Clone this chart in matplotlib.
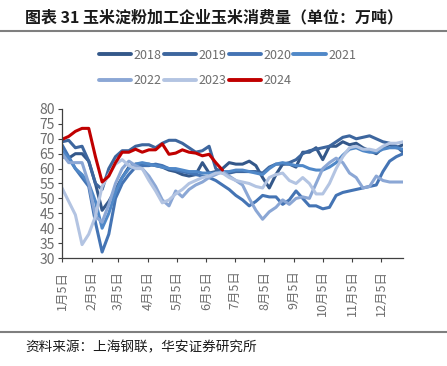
import matplotlib
matplotlib.use("Agg")
import matplotlib.pyplot as plt
import numpy as np

plt.rcParams['font.family'] = ['Noto Sans CJK SC', 'DejaVu Sans']

# weekly series (week index 0 = 1月5日)
y2018 = [64, 63.5, 65, 65, 62.5, 55, 46, 49, 53, 57, 60.5, 61.5, 61.5,
         61.5, 61, 60.5, 59.5, 59, 58, 57.5, 58, 62, 58.5, 59, 60, 62,
         61.5, 61.5, 62.5, 61, 57, 53.5, 58, 61.5, 61.5, 60.5, 65.5, 65.5,
         67, 63, 67.5, 67.5, 69, 68, 68.5, 67, 66, 65, 67, 68, 67, 68]
y2019 = [69, 69.5, 67, 67.5, 62.5, 55, 53, 60, 64, 66, 66, 67.5, 68,
         68, 67, 68.5, 69.5, 69.5, 68.5, 67, 65.5, 66, 67.5, 60, 58.5, 58.5,
         59, 59, 59, 59, 58.5, 60.5, 61.5, 61.5, 62, 63, 65, 66, 66.5,
         67, 67.5, 69, 70.5, 71, 70, 70.5, 71, 70, 69, 68.5, 67.5, 65.5]
y2020 = [68, 64, 60, 57, 54, 42, 32, 38, 50, 55, 58, 60.5, 61,
         61, 61.5, 61, 60, 59.5, 59, 58.5, 58, 57.5, 57, 56, 54.5, 53,
         51, 49.5, 47.5, 49, 51, 50.5, 50.5, 48, 49.5, 52.5, 50, 47.5, 47.5,
         46.5, 47, 51, 52, 52.5, 53, 53.5, 54, 54.5, 59, 62.5, 64, 65]
y2021 = [66, 63.5, 60, 58, 55, 49, 40, 45, 52, 57, 60, 61.5, 62,
         61.5, 61, 60.5, 60, 60, 59.5, 59, 59, 58.5, 58.5, 58.5, 59, 59,
         59.5, 59.5, 59, 58.5, 58, 60, 61.5, 62, 61.5, 61, 61, 60, 59.5,
         59.5, 60.5, 62, 64.5, 66.5, 67, 66, 65.5, 65.5, 66.5, 67, 67, 66.5]
y2022 = [65, 62, 62, 62, 55, 44, 42, 48, 55, 60, 62.5, 61, 60,
         57.5, 54, 49.5, 47.5, 52.5, 50.5, 53, 54.5, 55.5, 57, 58, 59, 57.5,
         56, 54.5, 50, 46, 43, 45.5, 47, 49.5, 48, 50, 50.5, 50, 55,
         60, 62, 63.5, 62, 58.5, 57, 53.5, 54, 57.5, 56, 55.5, 55.5, 55.5]
y2023 = [53.5, 49, 44.5, 34.5, 38, 44, 54, 58, 61.5, 63, 61, 60, 60,
         56, 52.5, 48.5, 49.5, 51.5, 53, 55, 56, 57, 57.5, 58.5, 58.5, 57,
         56, 55.5, 55, 54, 53.5, 57, 58, 58.5, 56, 55, 57, 55, 51.5,
         51.5, 55, 60, 64, 67, 67.5, 66.5, 66.5, 66, 67.5, 68.5, 68.5, 69]
y2024 = [69.8, 70.8, 72.5, 73.5, 73.5, 64, 55.5, 57.5, 62, 65.5, 65.5, 66.5, 65.5,
         66.3, 66.3, 68.3, 64.8, 65.2, 66.3, 65.5, 65.2, 64.3, 64.8, 62, 59.5]

years = ['2018', '2019', '2020', '2021', '2022', '2023', '2024']
series = [y2018, y2019, y2020, y2021, y2022, y2023, y2024]
colors = ['#34588A', '#3D669E', '#4474B4', '#5088C8', '#8BA7D5', '#B3C4E2', '#C00000']

tick_labels = ['1月5日', '2月5日', '3月5日', '4月5日', '5月5日', '6月5日',
               '7月5日', '8月5日', '9月5日', '10月5日', '11月5日', '12月5日']
tick_days = [0, 31, 59, 90, 120, 151, 181, 212, 243, 273, 304, 334]

fig = plt.figure(figsize=(4.47, 3.66), dpi=100)
ax = fig.add_axes([62/447, 1 - 258/366, 341/447, 149/366])

lines = []
for yr, vals, c in zip(years, series, colors):
    ln, = ax.plot(np.arange(len(vals)), vals, color=c, lw=2.2, label=yr,
                  solid_joinstyle='round', solid_capstyle='round')
    lines.append(ln)

ax.set_xlim(0, 51)
ax.set_ylim(30, 80)
ax.set_yticks(np.arange(30, 81, 5))
ax.set_xticks([d / 7 for d in tick_days])
ax.set_xticklabels(tick_labels, rotation=90, fontsize=9, color='#6d6d6d')
ax.tick_params(axis='y', labelsize=10, length=3, width=0.8, pad=2)
ax.tick_params(axis='x', length=3, width=0.8, pad=6)
for s in ['top', 'right']:
    ax.spines[s].set_visible(False)
for s in ['left', 'bottom']:
    ax.spines[s].set_color('#404040')
    ax.spines[s].set_linewidth(0.9)
ax.tick_params(colors='#404040', labelcolor='#6d6d6d')

# legend filled row by row: 2018-2021 on top, 2022-2024 below
order = [0, 4, 1, 5, 2, 6, 3]
leg = fig.legend([lines[i] for i in order], [years[i] for i in order],
                 loc='upper left', bbox_to_anchor=(90/447, 1 - 40/366), ncol=4,
                 frameon=False, fontsize=9, handlelength=2.6, handletextpad=0.2,
                 columnspacing=0.15, labelspacing=1.0, labelcolor='#6d6d6d',
                 borderpad=0.2)
for h in leg.legend_handles:
    h.set_linewidth(2.8)

fig.text(25/447, 1 - 17/366, '图表 31 玉米淀粉加工企业玉米消费量（单位：万吨）',
         fontsize=11.5, fontweight='bold', va='center', ha='left', color='#1a1a1a')
fig.add_artist(plt.Line2D([0, 1], [1 - 31/366, 1 - 31/366], color='#7f7f7f', lw=1.5))
fig.add_artist(plt.Line2D([0, 1], [1 - 332/366, 1 - 332/366], color='#7f7f7f', lw=1.5))
fig.text(25/447, 1 - 347/366, '资料来源：上海钢联，华安证券研究所',
         fontsize=9.8, va='center', ha='left', color='#1a1a1a')

fig.savefig('out.png', dpi=100)
